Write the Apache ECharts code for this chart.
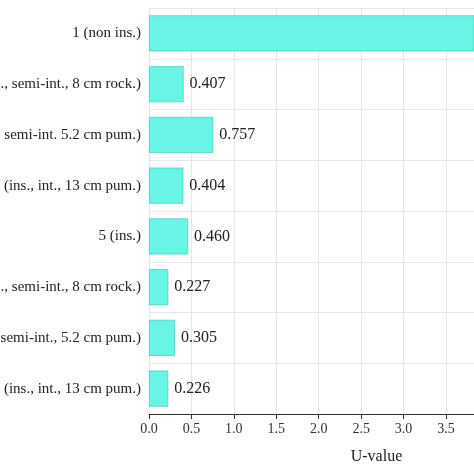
<!DOCTYPE html><html><head><meta charset="utf-8">
<script src="https://cdn.jsdelivr.net/npm/echarts@6/dist/echarts.min.js"></script>
<style>html,body{margin:0;padding:0;background:#fff}#c{width:474px;height:474px}</style></head><body><div id="c"></div>
<script>
const categories=["1 (non ins.)","2 (ins., semi-int., 8 cm rock.)","3 (ins., semi-int. 5.2 cm pum.)","4 (ins., int., 13 cm pum.)","5 (ins.)","6 (ins., semi-int., 8 cm rock.)","7 (ins., semi-int., 5.2 cm pum.)","8 (ins., int., 13 cm pum.)"];
const values=[4.6,0.407,0.757,0.404,0.460,0.227,0.305,0.226];
const labels=["","0.407","0.757","0.404","0.460","0.227","0.305","0.226"];
const font="'Liberation Serif','DejaVu Serif',serif";
const ch=echarts.init(document.getElementById('c'));
ch.setOption({
 animation:false,
 grid:{left:149,right:0,top:8,bottom:60,containLabel:false,outerBoundsMode:'none'},
 xAxis:{type:'value',min:0,max:3.83,interval:0.5,
  name:'U-value',nameLocation:'middle',nameGap:35,nameTextStyle:{fontFamily:font,fontSize:16,color:'#222',padding:[0,0,0,130]},
  axisLabel:{fontFamily:font,fontSize:14,color:'#333',showMaxLabel:false,formatter:v=>v.toFixed(1)},
  axisLine:{show:true,lineStyle:{color:'#333'}},axisTick:{show:true,lineStyle:{color:'#333'}},
  splitLine:{lineStyle:{color:'#e6e6e6'}}},
 yAxis:{type:'category',data:categories,inverse:true,
  axisLabel:{fontFamily:font,fontSize:15,color:'#222',margin:8},
  axisLine:{show:false},axisTick:{show:false},
  splitLine:{show:true,lineStyle:{color:'#e6e6e6'}},splitArea:{show:false}},
 series:[{type:'bar',data:values,barWidth:36,
  itemStyle:{color:'#68f5e6',borderColor:'#3cbfb0',borderWidth:0.6},
  label:{show:true,position:'right',distance:6,fontFamily:font,fontSize:16,color:'#222',formatter:p=>labels[p.dataIndex]}}]
});
</script></body></html>
